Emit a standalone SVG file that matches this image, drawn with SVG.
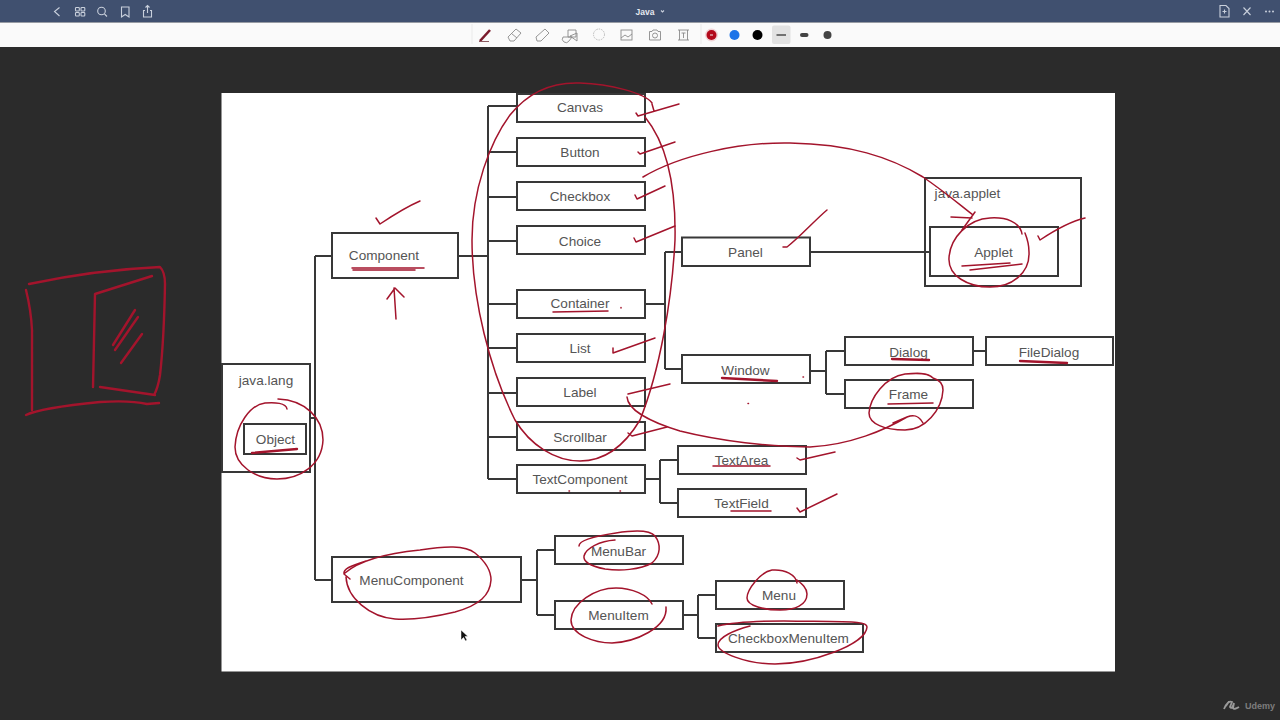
<svg xmlns="http://www.w3.org/2000/svg" width="1280" height="720" viewBox="0 0 1280 720">
<style>
.box{fill:#fff;stroke:#383838;stroke-width:2}
.pkg{fill:none;stroke:#383838;stroke-width:2}
.lbl{font-family:"Liberation Sans",Arial,sans-serif;font-size:13.600px;fill:#555;text-anchor:middle}
.wire{fill:none;stroke:#383838;stroke-width:2}
.ink{fill:none;stroke:#a3142c;stroke-width:1.500;stroke-linecap:round;stroke-linejoin:round}
.thick{stroke-width:2.400}
.ic{fill:none;stroke:#c9d0dc;stroke-width:1.100}
.tb{fill:none;stroke:#8b8b8b;stroke-width:.9}
</style>
<rect width="1280" height="720" fill="#2b2b2b"/>
<g id="titlebar">
<rect width="1280" height="22.500" fill="#40506f"/>
<rect y="22.500" width="1280" height="24.500" fill="#fafafa"/>
<path class="ic" stroke-width="1.400" d="M59.500 7.500L54.500 11.500L59.500 16"/>
<g class="ic"><rect x="75.500" y="7.500" width="3.800" height="3.500" rx=".8"/><rect x="81" y="7.500" width="3.800" height="3.500" rx=".8"/><rect x="75.500" y="12.500" width="3.800" height="3.500" rx=".8"/><rect x="81" y="12.500" width="3.800" height="3.500" rx=".8"/></g>
<circle class="ic" cx="101.500" cy="11" r="3.800"/><path class="ic" d="M104.500 14L107 16.500"/>
<path class="ic" d="M121.500 7H129V17L125.200 14.500L121.500 17Z"/>
<path class="ic" d="M145 10.500H143.500V17H151.500V10.500H150M147.500 13V5.500M145.500 7.500L147.500 5.500L149.500 7.500"/>
<text x="645" y="15" style="font-family:'Liberation Sans',Arial,sans-serif;font-size:8.500px;font-weight:bold;fill:#e6e9ef;text-anchor:middle">Java</text>
<path class="ic" d="M661 10.500L662.500 12L664 10.500"/>
<path class="ic" d="M1220 5.500H1226L1229 8.500V17H1220ZM1222.500 11.500H1226.500M1224.500 9.500V13.500"/>
<path class="ic" stroke-width="1.300" d="M1243.500 7.500L1250.500 15M1250.500 7.500L1243.500 15"/>
<g fill="#c9d0dc"><circle cx="1266" cy="11.500" r="1"/><circle cx="1269.500" cy="11.500" r="1"/><circle cx="1273" cy="11.500" r="1"/></g>
<path d="M472 24V44" stroke="#e2e2e2" stroke-width=".7"/>
<path d="M480 41L490 30" stroke="#7a1b2c" stroke-width="2.600"/><path d="M479 41.500H489" stroke="#8b5a60"/>
<path class="tb" d="M508 37L516 29L521 33L514 41H510ZM511.500 33.500L517 38"/>
<path class="tb" d="M536 37L545 29L549 33L541 41H537Z"/>
<path class="tb" d="M568 30H576V37H568ZM572 37L563 37A3 3 0 1 0 569 41ZM570 36L577 33V41Z"/>
<circle cx="599" cy="34.500" r="5.500" fill="none" stroke="#bbb" stroke-dasharray="1.500 1"/>
<rect class="tb" x="621" y="30" width="11" height="10"/><path class="tb" d="M621 38L625 35L628 37L632 34"/>
<path class="tb" d="M649.500 31.500H652L653 30H657L658 31.500H660.500V40H649.500Z"/><circle class="tb" cx="655" cy="35.500" r="2.500"/>
<path class="tb" d="M678 30H689M678 40H689M679.500 30V40M687.500 30V40M681.500 33H685.500M683.500 33V38"/>
<path d="M701 24V44" stroke="#e2e2e2" stroke-width=".7"/>
<circle cx="711.500" cy="35" r="6.500" fill="#f1d5d8"/><circle cx="711.500" cy="35" r="5" fill="#b3091b"/><path d="M710 35H713" stroke="#eee"/>
<circle cx="734.500" cy="35" r="5" fill="#1e74e8"/>
<circle cx="757.500" cy="35" r="5" fill="#000"/>
<rect x="772" y="25.500" width="18.500" height="18.500" rx="2" fill="#e2e2e2"/><path d="M776.500 35H786" stroke="#555" stroke-width="1.600"/>
<rect x="800" y="33" width="8.500" height="4" rx="2" fill="#444"/>
<circle cx="827.500" cy="35" r="4" fill="#444"/>
</g>
<rect id="page" x="221.500" y="93" width="893.500" height="578.500" fill="#fff"/>
<g id="connectors">
<path class="wire" d="M488 106H517M488 106V479M488 152H517M488 197H517M488 241H517M488 304H517M488 348H517M488 393H517M488 437H517M488 479H517M458 256H488"/>
<path class="wire" d="M310 418H315M315 256V580M315 256H332M315 580H332"/>
<path class="wire" d="M521 580H537M537 550V615M537 550H555M537 615H555M683 615H698M698 595V638M698 595H716M698 638H716"/>
<path class="wire" d="M645 304H665M665 252V369M665 252H682M665 369H682M810 252H930"/>
<path class="wire" d="M810 371H826M826 351V394M826 351H845M826 394H845M973 351H986"/>
<path class="wire" d="M645 479H660M660 460V503M660 460H678M660 503H678"/>
</g>
<g id="pkg-java-lang"><rect class="pkg" x="222" y="364" width="88" height="108"/><text class="lbl" x="266" y="385">java.lang</text></g>
<g id="node-object"><rect class="box" x="244" y="424" width="62" height="30"/><text class="lbl" x="275.500" y="444">Object</text></g>
<g id="node-component"><rect class="box" x="332" y="233" width="126" height="45"/><text class="lbl" x="384" y="260">Component</text></g>
<g id="node-menucomponent"><rect class="box" x="332" y="557" width="189" height="45"/><text class="lbl" x="411.500" y="585">MenuComponent</text></g>
<g id="node-canvas"><rect class="box" x="517" y="94" width="128" height="28"/><text class="lbl" x="580" y="112">Canvas</text></g>
<g id="node-button"><rect class="box" x="517" y="138" width="128" height="28"/><text class="lbl" x="580" y="157">Button</text></g>
<g id="node-checkbox"><rect class="box" x="517" y="182" width="128" height="28"/><text class="lbl" x="580" y="201">Checkbox</text></g>
<g id="node-choice"><rect class="box" x="517" y="226" width="128" height="28"/><text class="lbl" x="580" y="246">Choice</text></g>
<g id="node-container"><rect class="box" x="517" y="290" width="128" height="28"/><text class="lbl" x="580" y="308">Container</text></g>
<g id="node-list"><rect class="box" x="517" y="334" width="128" height="28"/><text class="lbl" x="580" y="353">List</text></g>
<g id="node-label"><rect class="box" x="517" y="378" width="128" height="28"/><text class="lbl" x="580" y="397">Label</text></g>
<g id="node-scrollbar"><rect class="box" x="517" y="422" width="128" height="28"/><text class="lbl" x="580" y="442">Scrollbar</text></g>
<g id="node-textcomponent"><rect class="box" x="517" y="465" width="128" height="28"/><text class="lbl" x="580" y="484">TextComponent</text></g>
<g id="node-panel"><rect class="box" x="682" y="237.500" width="128" height="28.500"/><text class="lbl" x="745.500" y="257">Panel</text></g>
<g id="node-window"><rect class="box" x="682" y="355" width="128" height="28"/><text class="lbl" x="745.500" y="375">Window</text></g>
<g id="node-dialog"><rect class="box" x="845" y="337" width="128" height="28"/><text class="lbl" x="908.500" y="357">Dialog</text></g>
<g id="node-frame"><rect class="box" x="845" y="380" width="128" height="28"/><text class="lbl" x="908.500" y="399">Frame</text></g>
<g id="node-filedialog"><rect class="box" x="986" y="337" width="127" height="28"/><text class="lbl" x="1049" y="357">FileDialog</text></g>
<g id="node-textarea"><rect class="box" x="678" y="446" width="128" height="28"/><text class="lbl" x="741.500" y="465">TextArea</text></g>
<g id="node-textfield"><rect class="box" x="678" y="489" width="128" height="28"/><text class="lbl" x="741.500" y="508">TextField</text></g>
<g id="pkg-java-applet"><rect class="pkg" x="925" y="178" width="156" height="108"/><text class="lbl" x="967.500" y="198">java.applet</text></g>
<g id="node-applet"><rect class="box" x="930" y="227" width="128" height="49"/><text class="lbl" x="993.500" y="257">Applet</text></g>
<g id="node-menubar"><rect class="box" x="555" y="536" width="128" height="28"/><text class="lbl" x="618.500" y="556">MenuBar</text></g>
<g id="node-menuitem"><rect class="box" x="555" y="601" width="128" height="28"/><text class="lbl" x="618.500" y="620">MenuItem</text></g>
<g id="node-menu"><rect class="box" x="716" y="581" width="128" height="28"/><text class="lbl" x="779" y="600">Menu</text></g>
<g id="node-checkboxmenuitem"><rect class="box" x="716" y="624" width="147" height="28"/><text class="lbl" x="788.500" y="643">CheckboxMenuItem</text></g>
<g id="annotations">
<path class="ink" d="M652 103C645 93 610 84 580 83C555 82 530 90 510 115C490 142 472 190 472 240C472 300 490 370 515 420C530 445 555 461 580 461C605 461 625 445 640 420C660 370 672 300 675 240C676 190 668 145 645 117"/>
<path class="ink" d="M636 113L638 116L679 104M652 104L654 111M638 152L640 154L675 142M635 195L637 199L665 186M634 238L636 242L675 226"/>
<path class="ink" d="M553 312L608 311M621 307.500L621 308M613 348L613 353L655 338M628 394L670 384M628 433L632 436L667 427M569 491L569.500 491M620 491L620.500 491"/>
<path class="ink" d="M643 177C680 155 740 142 790 143C850 144 890 157 923 177C945 192 960 205 973 215M951 217L972 218M962 230L975 212"/>
<path class="ink" d="M1022 234C1020 222 1006 217 990 218C968 219 950 238 949 258C948 276 968 287 990 287C1012 287 1030 273 1029 252C1029 245 1027 238 1025 233"/>
<path class="ink" d="M962 266L1010 263M970 270L1022 264M1038 236L1040 240C1052 232 1068 222 1085 218"/>
<path class="ink" d="M783 247L787 247C800 237 815 220 827 210"/>
<path class="ink thick" d="M722 378L777 381"/>
<path class="ink" d="M803 377L803.500 377M748 403.500L748.500 403.500"/>
<path class="ink thick" d="M892 359L929 360M1020 361L1067 363"/>
<path class="ink" d="M888 404L933 403M713 466L770 466M731 511L771 511"/>
<path class="ink" d="M933 378C928 372 915 373 905 374C885 377 870 398 869 413C869 424 885 430 905 430C925 430 942 410 943 390C943 384 940 380 933 378"/>
<path class="ink" d="M627 397C628 410 650 422 680 431C720 441 770 447 810 447C850 445 885 430 907 417M893 423L907 417C912 415 918 414 923 423"/>
<path class="ink" d="M797 458L800 460L835 452M797 508L800 512L837 494"/>
<path class="ink" d="M376 218L380 224C392 216 406 207 420 201M396 319L394 288M387 299L395 288L404 297"/>
<path class="ink" d="M352 268L424 268M353 270L415 270"/>
<path class="ink" d="M287 409C286 403 275 402 265 403C250 405 236 425 235 447C235 465 255 479 277 479C300 479 322 465 323 440C323 418 305 400 278 399"/>
<path class="ink thick" d="M252 453L297 449"/>
<path class="ink" d="M350 579L344 574C343 569 350 566 366 561M345 573C360 560 390 553 420 550C445 546 465 545 475 553C486 562 491 572 491 580C490 595 480 605 455 612C430 618 410 620 395 619C370 617 347 598 346 577"/>
<path class="ink" d="M579 546C579 540 595 536 616 533C635 530 650 530 655 536C661 544 661 555 652 563C640 570 620 571 605 569C590 566 583 562 584 556C586 548 600 541 615 540"/>
<path class="ink" d="M652 604C648 595 632 588 616 588C595 588 572 603 571 620C571 635 595 643 612 643C635 642 668 628 666 607"/>
<path class="ink" d="M797 583C796 575 785 569 772 570C760 572 747 590 747 598C747 606 765 610 780 610C795 610 807 605 807 594C807 588 802 584 797 580"/>
<path class="ink" d="M750 626C735 630 718 637 718 645C718 652 745 664 775 664C810 664 866 645 867 627C867 621 855 622 784 621C750 621 730 623 718 626"/>
<path class="ink thick" d="M29 284Q95 270 160 267Q165 272 165 284Q164 340 160 375Q158 388 154 395M26 290Q31 310 32 330V410M26 415Q40 408 100 402Q130 400 147 404L159 403M152 276L95 294L93 387M100 387L155 395M135 310L113 345M138 317L115 350M142 334L121 363"/>
</g>
<path id="cursor" d="M461 630V640L463.500 637.500L465.500 641L467 640L465 636.500H468Z" fill="#111" stroke="#fff" stroke-width=".5"/>
<g id="watermark"><path d="M1225 707Q1229 702 1229 701M1224 709Q1228 700 1232 702L1230 707Q1232 710 1234 703L1233 708Q1234 710 1239 707" fill="none" stroke="#9a9a9a" stroke-width="1.800"/><text x="1245" y="709" style="font-family:'Liberation Sans',Arial,sans-serif;font-size:9px;font-weight:bold;fill:#7d7d7d">Udemy</text></g>
</svg>
